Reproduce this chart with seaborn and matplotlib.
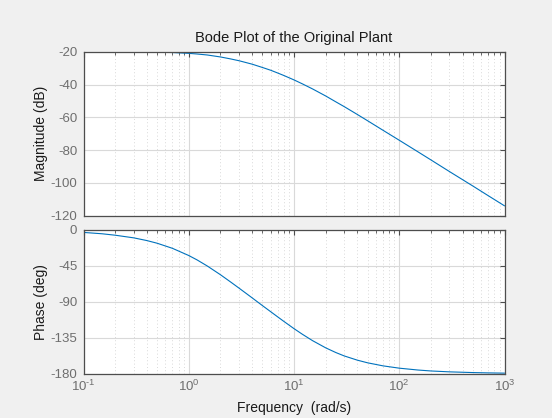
import numpy as np
import pandas as pd
import matplotlib
matplotlib.use('Agg')
import matplotlib.pyplot as plt
import seaborn as sns
from matplotlib.ticker import LogLocator, NullFormatter, FixedLocator

# values
freq = [0.1, 0.15, 0.2, 0.3, 0.4, 0.5, 0.7, 1, 1.2, 1.5, 2, 2.5, 3, 4, 5, 6, 7,
        8, 10, 12, 15, 20, 25, 30, 40, 50, 70, 100, 150, 200, 300, 500, 700, 1000]
mag_db = [-20.0, -20.0, -20.0, -20.1, -20.2, -20.3, -20.5, -21.0, -21.4, -22.0,
          -23.2, -24.4, -25.5, -27.6, -29.6, -31.3, -33.0, -34.5, -37.2, -39.6,
          -42.7, -47.0, -50.6, -53.5, -58.3, -62.1, -67.9, -74.0, -81.0, -86.0,
          -93.1, -101.9, -107.8, -114.0]
phase_deg = [-3.4, -5.1, -6.9, -10.2, -13.6, -16.9, -23.3, -32.3, -37.8, -45.4,
             -56.3, -65.4, -73.0, -85.2, -94.8, -102.5, -109.0, -114.6, -123.7,
             -130.7, -138.7, -147.7, -153.6, -157.8, -163.1, -166.4, -170.2,
             -173.1, -175.4, -176.6, -177.7, -178.6, -179.0, -179.3]
mag_ticks = [-120, -100, -80, -60, -40, -20]
phase_ticks = [-180, -135, -90, -45, 0]
freq_ticks = [0.1, 1, 10, 100, 1000]
freq_labels = ['$10^{\\text{-}1}$', '$10^{0}$', '$10^{1}$', '$10^{2}$', '$10^{3}$']

df = pd.DataFrame({'freq': freq, 'mag': mag_db, 'phase': phase_deg})

sns.set_style('white')
plt.rcParams['font.family'] = ['Liberation Sans', 'DejaVu Sans']
plt.rcParams['mathtext.fontset'] = 'custom'
plt.rcParams['mathtext.rm'] = 'Liberation Sans'
plt.rcParams['mathtext.it'] = 'Liberation Sans'
plt.rcParams['axes.unicode_minus'] = False

line_col = '#0072BD'
tick_col = '#6e6e6e'
frame_col = '#4d4d4d'

fig = plt.figure(figsize=(5.52, 4.18), dpi=100)
fig.patch.set_facecolor('#f0f0f0')
ax1 = fig.add_axes([0.1513, 0.4840, 0.7627, 0.3923])
ax2 = fig.add_axes([0.1513, 0.1060, 0.7627, 0.3445])

sns.lineplot(data=df, x='freq', y='mag', ax=ax1, color=line_col, linewidth=0.8)
sns.lineplot(data=df, x='freq', y='phase', ax=ax2, color=line_col, linewidth=0.8)

for ax, ticks in [(ax1, mag_ticks), (ax2, phase_ticks)]:
    ax.set_xscale('log')
    ax.set_xlim(0.1, 1000)
    ax.set_ylim(ticks[0], ticks[-1])
    ax.yaxis.set_major_locator(FixedLocator(ticks))
    ax.xaxis.set_major_locator(FixedLocator(freq_ticks))
    ax.xaxis.set_minor_locator(LogLocator(base=10, subs=np.arange(2, 10), numticks=20))
    ax.xaxis.set_minor_formatter(NullFormatter())
    ax.set_facecolor('white')
    ax.grid(True, which='major', color='#d9d9d9', linewidth=0.8, linestyle='-')
    ax.grid(True, which='minor', axis='x', color='#cccccc', linewidth=0.6, linestyle=(0, (1, 3)))
    ax.set_axisbelow(True)
    for s in ax.spines.values():
        s.set_color(frame_col)
        s.set_linewidth(0.9)
        s.set_visible(True)
    ax.tick_params(which='both', direction='in', top=True, right=True,
                   colors=frame_col, labelcolor=tick_col, labelsize=9.5)
    ax.tick_params(which='major', length=3.5, width=0.8)
    ax.tick_params(axis='y', which='major', pad=4.5)
    ax.tick_params(which='minor', length=2, width=0.6)
    ax.tick_params(axis='y', which='minor', left=False, right=False)

ax1.set_xticklabels([])
ax1.set_xlabel('')
ax1.set_ylabel('Magnitude (dB)', fontsize=10, color='#1a1a1a', labelpad=2)
ax1.set_title('Bode Plot of the Original Plant', fontsize=10.5, color='#1a1a1a', pad=7)

ax2.set_xticklabels(freq_labels)
ax2.set_ylabel('Phase (deg)', fontsize=10, color='#1a1a1a', labelpad=2)
ax2.set_xlabel('Frequency  (rad/s)', fontsize=10, color='#1a1a1a', labelpad=5)

fig.savefig('out.png', dpi=100, facecolor=fig.get_facecolor())
